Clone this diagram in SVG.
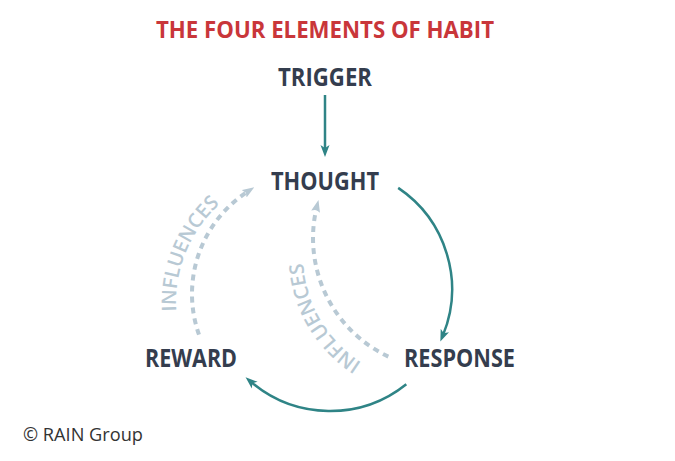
<svg xmlns="http://www.w3.org/2000/svg" width="675" height="461" viewBox="0 0 675 461">
  <defs>
    <style>
      .title { font-family: "Open Sans", "Noto Sans", sans-serif; font-weight: 700; font-size: 24px; fill: #c9363a; }
      .label { font-family: "Open Sans", "Noto Sans", sans-serif; font-weight: 700; font-size: 25px; fill: #343d4e; }
      .infl { font-family: "Open Sans", "Noto Sans", sans-serif; font-weight: 600; font-size: 20px; fill: #b8c9d4; }
      .copy { font-family: "Open Sans", "Noto Sans", sans-serif; font-weight: 400; font-size: 19px; fill: #333333; }
      .solid { fill: none; stroke: #2f8486; stroke-width: 2.5; }
      .dashed { fill: none; stroke: #b8c9d4; stroke-width: 4; stroke-dasharray: 6 5; }
    </style>
    <marker id="tealHead" markerUnits="userSpaceOnUse" markerWidth="12" markerHeight="10" viewBox="0 0 12 10" refX="5" refY="5" orient="auto">
      <path d="M0,0.5 L12,5 L0,9.5 L3,5 Z" fill="#2f8486"/>
    </marker>
    <marker id="greyHead" markerUnits="userSpaceOnUse" markerWidth="12" markerHeight="10" viewBox="0 0 12 10" refX="5" refY="5" orient="auto">
      <path d="M0,0.5 L12,5 L0,9.5 L2,5 Z" fill="#b8c9d4"/>
    </marker>
    <path id="inflLeft" d="M176.3,312.3 A134,134 0 0 1 233.1,193.2"/>
    <path id="inflMid" d="M362.7,363.2 A127,127 0 0 1 303,255.5"/>
  </defs>

  <text class="title" x="156" y="38" textLength="338" lengthAdjust="spacingAndGlyphs">THE FOUR ELEMENTS OF HABIT</text>

  <g id="connectors">
    <path id="trigger-thought" class="solid" d="M325,95 L325,150" marker-end="url(#tealHead)"/>
    <path id="thought-response" class="solid" d="M398.2,187.9 A122,122 0 0 1 443.0,335.1" marker-end="url(#tealHead)"/>
    <path id="response-reward" class="solid" d="M406.3,384.2 A122,122 0 0 1 250.9,381.9" marker-end="url(#tealHead)"/>
    <path id="reward-thought" class="dashed" d="M199.0,334.7 A122,122 0 0 1 248.4,191.1" marker-end="url(#greyHead)"/>
    <path id="response-thought" class="dashed" d="M388.3,356.6 A131,131 0 0 1 316.8,206.8" marker-end="url(#greyHead)"/>
    <text class="infl"><textPath href="#inflLeft" startOffset="1">INFLUENCES</textPath></text>
    <text class="infl"><textPath href="#inflMid" startOffset="1">INFLUENCES</textPath></text>
  </g>

  <g id="trigger">
    <text class="label" x="278" y="86" textLength="94" lengthAdjust="spacingAndGlyphs">TRIGGER</text>
  </g>
  <g id="thought">
    <text class="label" x="271" y="190" textLength="108" lengthAdjust="spacingAndGlyphs">THOUGHT</text>
  </g>
  <g id="reward">
    <text class="label" x="145" y="367" textLength="92" lengthAdjust="spacingAndGlyphs">REWARD</text>
  </g>
  <g id="response">
    <text class="label" x="404" y="367" textLength="111" lengthAdjust="spacingAndGlyphs">RESPONSE</text>
  </g>

  <text class="copy" x="23" y="441" textLength="120" lengthAdjust="spacingAndGlyphs">© RAIN Group</text>
</svg>
